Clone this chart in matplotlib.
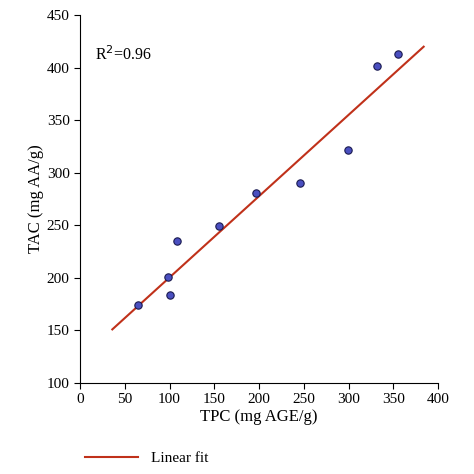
import matplotlib
matplotlib.use("Agg")
import matplotlib.pyplot as plt
from matplotlib.lines import Line2D

plt.rcParams['font.family'] = ['Liberation Serif', 'DejaVu Serif']

tpc = [65, 98, 100, 108, 155, 197, 246, 299, 332, 355]
tac = [174, 201, 184, 235, 249, 281, 290, 322, 402, 413]
fit_x = [36, 384]
fit_y = [151, 420]

fig = plt.figure(figsize=(4.74, 4.74), dpi=100)
ax = fig.add_axes([0.169, 0.192, 0.755, 0.776])
ax.plot(fit_x, fit_y, color='#c0311a', lw=1.5, zorder=2)
ax.scatter(tpc, tac, s=28, color='#4a4fc0', edgecolor='#1a1a50', linewidth=0.8, zorder=3)
ax.set_xlim(0, 400)
ax.set_ylim(100, 450)
ax.set_xticks(range(0, 401, 50))
ax.set_yticks(range(100, 451, 50))
ax.tick_params(labelsize=11, direction='out', length=4)
for s in ['top', 'right']:
    ax.spines[s].set_visible(False)
ax.set_xlabel('TPC (mg AGE/g)', fontsize=12, labelpad=2)
ax.set_ylabel('TAC (mg AA/g)', fontsize=12, labelpad=2)
ax.text(17, 407, r'R$^2$=0.96', fontsize=11.5)
fig.legend(handles=[Line2D([], [], color='#c0311a', lw=1.5)], labels=['Linear fit'],
           loc='lower left', bbox_to_anchor=(0.15, -0.01), frameon=False, fontsize=11,
           handlelength=3.5)
fig.savefig('out.png', dpi=100)
